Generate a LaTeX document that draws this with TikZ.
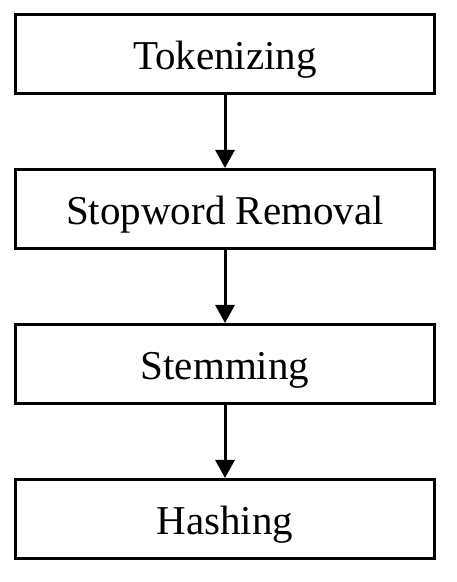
\documentclass[tikz,border=0pt]{standalone}
\usepackage{fontspec}
\setmainfont{Liberation Serif}
\usetikzlibrary{positioning,arrows.meta}
\begin{document}
\begin{tikzpicture}[x=1pt,y=1pt,node distance=73pt,
    stage/.style={draw,line width=3pt,minimum width=419pt,minimum height=79pt,
      inner sep=0pt,text height=31pt,text depth=0pt,font=\fontsize{41}{49}\selectfont}]
      \useasboundingbox (0,0) rectangle (456,582);
      \node[stage] (tok) at (225,528) {Tokenizing};
      \node[stage,below=of tok] (stop) {Stopword Removal};
      \node[stage,below=of stop] (stem) {Stemming};
      \node[stage,below=of stem] (hash) {Hashing};
      \begin{scope}[-{Triangle[width=19pt,length=18pt]},line width=3pt]
        \draw (tok) to (stop);
        \draw (stop) to (stem);
        \draw (stem) to (hash);
      \end{scope}
    \end{tikzpicture}
\end{document}
